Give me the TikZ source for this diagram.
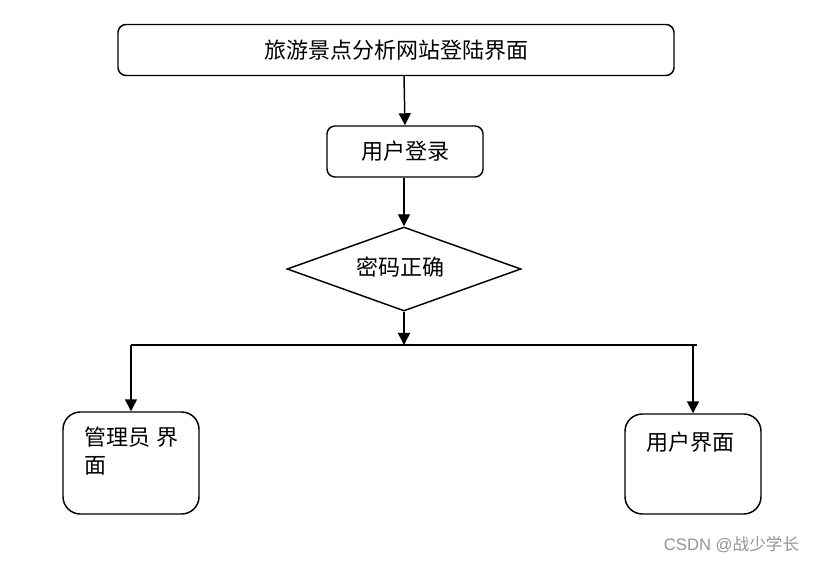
\documentclass[tikz,border=0pt]{standalone}
\usepackage{fontspec}
\newfontfamily\cjk{Noto Sans CJK SC}
\newfontfamily\wmfont{Liberation Sans}
\usetikzlibrary{arrows.meta,shapes.geometric}
\begin{document}
\begin{tikzpicture}[x=0.75pt,y=-0.75pt,
  box/.style={draw,line width=1.1pt,rounded corners=6pt,inner sep=0pt,font=\cjk\fontsize{16.5}{19}\selectfont},
  bigbox/.style={draw,line width=1.1pt,rounded corners=13pt,inner sep=0pt},
  lbl/.style={font=\cjk\fontsize{16.5}{21}\selectfont,inner sep=0pt,anchor=north west,align=left},
  arr/.style={line width=1.1pt,-{Triangle[width=9pt,length=9pt]}},
  ln/.style={line width=1.1pt}]
\useasboundingbox (0,0) rectangle (815,563);
\node[box,minimum width=556*0.75pt,minimum height=51*0.75pt] (top) at (396,50) {旅游景点分析网站登陆界面};
\node[box,minimum width=156*0.75pt,minimum height=51*0.75pt] (login) at (405,151.5) {用户登录};
\node[draw,line width=1.1pt,diamond,aspect=2.79,minimum width=234*0.75pt,minimum height=84*0.75pt,inner sep=0pt] (pwd) at (404,269) {};
\node[font=\cjk\fontsize{16.5}{19}\selectfont] (pwdtxt) at (400,267) {密码正确};
\node[bigbox,minimum width=136*0.75pt,minimum height=102*0.75pt] (admin) at (131,463) {};
\node[lbl] (admintxt) at (84,427) {管理员\hspace{0.3em}界\\面};
\node[bigbox,minimum width=136*0.75pt,minimum height=100*0.75pt] (user) at (693,464) {};
\node[lbl,anchor=center] (usertxt) at (690,442) {用户界面};
\coordinate (j) at (404,345);
\coordinate (jl) at (131,345);
\coordinate (jr) at (697,345);
\coordinate (jr2) at (693,345);
\draw[arr] (top.south -| login.north) ++(-1,0) -- (login.north);
\draw[arr] (login.south -| pwd.north) -- (pwd.north);
\draw[arr] (pwd.south) -- (j);
\draw[ln] (jl) -- (jr);
\draw[arr] (jl) -- (admin.north);
\draw[arr] (jr2) -- (user.north);
\node[font=\wmfont\fontsize{12.5}{14}\selectfont,text=black!42,anchor=east] (wm) at (804,545) {CSDN @{\cjk 战少学长}};
\end{tikzpicture}
\end{document}
